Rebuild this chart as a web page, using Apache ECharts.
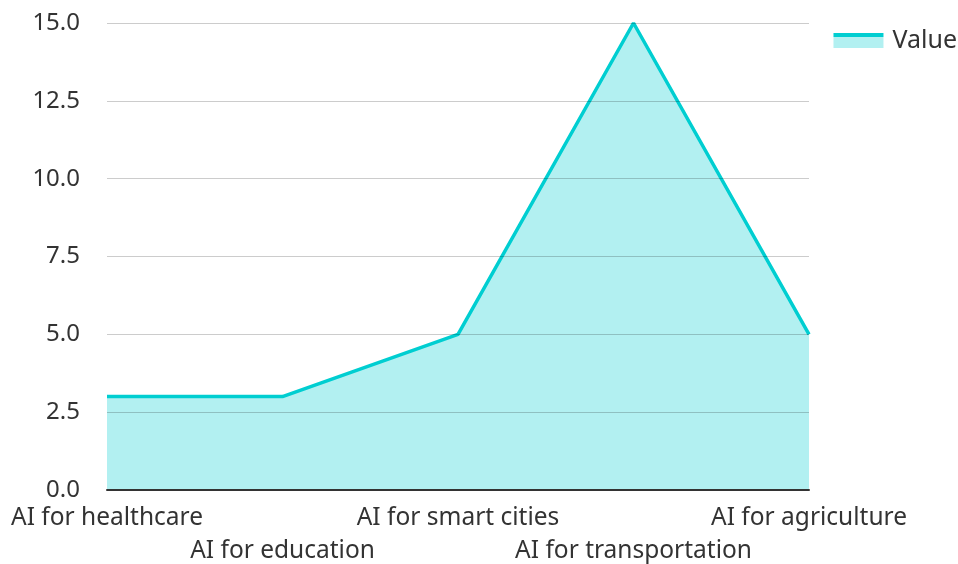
<!DOCTYPE html>
<html><head><meta charset="utf-8">
<script src="https://cdn.jsdelivr.net/npm/echarts@6/dist/echarts.min.js"></script>
<style>html,body{margin:0;padding:0;background:#fff}#c{width:958px;height:564px}</style>
</head><body><div id="c"></div>
<script>
const categories = ["AI for healthcare","AI for education","AI for smart cities","AI for transportation","AI for agriculture"];
const values = [3, 3, 5, 15, 5];
const seriesName = "Value";
const chart = echarts.init(document.getElementById('c'));
chart.setOption({
  animation:false,
  textStyle:{fontFamily:"Noto Sans"},
  grid:{left:107,right:149,top:23,bottom:74,containLabel:false,outerBoundsMode:"none"},
  legend:{right:-4,top:23,itemWidth:50,itemHeight:15,itemGap:9,
    textStyle:{fontSize:25,color:"#333",fontFamily:"Noto Sans",padding:[0,0,10,4]},
    data:[{name:seriesName,icon:"rect",itemStyle:{color:{type:"linear",x:0,y:0,x2:0,y2:1,
      colorStops:[{offset:0,color:"#00CED1"},{offset:0.25,color:"#00CED1"},{offset:0.25,color:"#b2f0f1"},{offset:1,color:"#b2f0f1"}]}}}]},
  xAxis:{type:"category",data:categories,boundaryGap:false,z:3,
    axisLine:{lineStyle:{color:"#333",width:2}},axisTick:{show:false},
    axisLabel:{interval:0,fontSize:24.5,color:"#333",margin:12,
      formatter:(v,i)=> i%2===1 ? "\n"+v : v, lineHeight:33}},
  yAxis:{type:"value",min:0,max:15,interval:2.5,z:3,
    axisLabel:{fontSize:24,color:"#333",margin:27,formatter:v=>v.toFixed(1)},
    axisLine:{show:false},axisTick:{show:false},
    splitLine:{lineStyle:{color:"rgba(0,0,0,0.2)",width:1}}},
  series:[{name:seriesName,type:"line",data:values,symbol:"none",z:2,
    lineStyle:{color:"#00CED1",width:3.5},itemStyle:{color:"#00CED1"},
    areaStyle:{color:"#00CED1",opacity:0.3}}]
});
</script></body></html>
